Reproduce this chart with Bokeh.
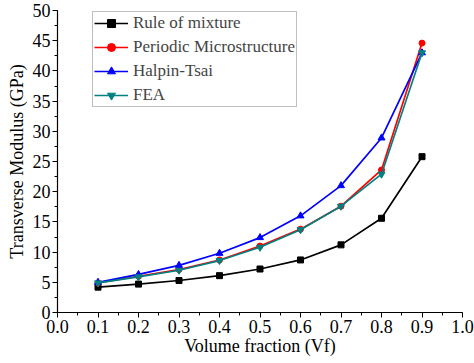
from bokeh.plotting import figure
from bokeh.models import (Range1d, SingleIntervalTicker, NumeralTickFormatter, Legend, LegendItem)
from bokeh.embed import file_html
from bokeh.resources import INLINE

vf = [0.1, 0.2, 0.3, 0.4, 0.5, 0.6, 0.7, 0.8, 0.9]
rule_of_mixture = [4.2, 4.7, 5.3, 6.1, 7.2, 8.7, 11.2, 15.6, 25.8]
periodic = [4.9, 6.0, 7.1, 8.7, 11.0, 13.8, 17.6, 23.6, 44.6]
halpin_tsai = [5.0, 6.3, 7.8, 9.8, 12.4, 16.0, 21.0, 28.9, 43.0]
fea = [4.9, 5.9, 7.0, 8.6, 10.8, 13.7, 17.6, 22.9, 43.0]

series = [
    ("Rule of mixture", rule_of_mixture, "black", "square", 6),
    ("Periodic Microstructure", periodic, "#ff0000", "circle", 6),
    ("Halpin-Tsai", halpin_tsai, "#0000ff", "triangle", 7),
    ("FEA", fea, "#008080", "inverted_triangle", 7),
]

FONT = "Liberation Serif"

p = figure(frame_width=405, frame_height=302, output_backend="svg", toolbar_location=None,
           x_range=Range1d(0, 1.0), y_range=Range1d(0, 50),
           min_border_left=57, min_border_right=12, min_border_top=10, min_border_bottom=0)
p.outline_line_color = None
p.xgrid.visible = False
p.ygrid.visible = False

items = []
for name, ys, color, marker, size in series:
    r1 = p.line(vf, ys, line_color=color, line_width=1.7)
    r2 = p.scatter(vf, ys, marker=marker, size=size, fill_color=color, line_color=color)
    items.append(LegendItem(label=name, renderers=[r1, r2]))

p.xaxis.ticker = SingleIntervalTicker(interval=0.1, num_minor_ticks=2)
p.yaxis.ticker = SingleIntervalTicker(interval=5, num_minor_ticks=2)
p.xaxis.formatter = NumeralTickFormatter(format="0.0")
p.xaxis.axis_label = "Volume fraction (Vf)"
p.yaxis.axis_label = "Transverse Modulus (GPa)"
for ax in (p.xaxis, p.yaxis):
    ax.axis_label_text_font = FONT
    ax.axis_label_text_font_style = "normal"
    ax.axis_label_text_font_size = "18px"
    ax.major_label_text_font = FONT
    ax.major_label_text_font_size = "18px"
    ax.axis_line_color = "black"
    ax.axis_line_width = 1.2
    ax.major_tick_out = 5
    ax.major_tick_in = 0
    ax.minor_tick_out = 3
    ax.minor_tick_in = 0
    ax.major_tick_line_color = "black"
    ax.minor_tick_line_color = "black"
    ax.major_label_text_color = "black"
    ax.axis_label_text_color = "black"
p.xaxis.axis_label_standoff = 0
p.yaxis.axis_label_standoff = 3
p.xaxis.major_label_standoff = 2
p.yaxis.major_label_standoff = 2

legend = Legend(items=items, location=(35, 205))
legend.label_text_font = FONT
legend.label_text_font_style = "normal"
legend.label_text_font_size = "17px"
legend.glyph_width = 34
legend.glyph_height = 20
legend.label_height = 20
legend.label_standoff = 5
legend.spacing = 4
legend.padding = 1
legend.margin = 0
legend.border_line_color = "#808080"
legend.border_line_width = 1
legend.background_fill_alpha = 1
p.add_layout(legend, "center")

open("out.html", "w").write(file_html(p, INLINE))
